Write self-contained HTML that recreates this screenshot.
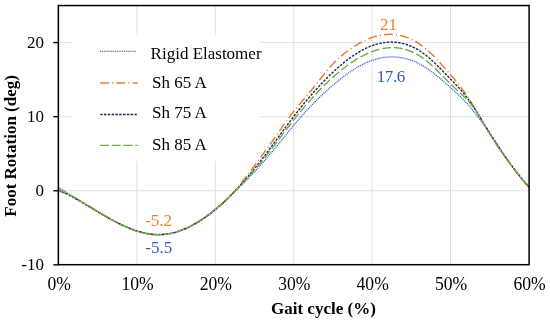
<!DOCTYPE html>
<html><head><meta charset="utf-8"><title>Foot rotation chart</title>
<style>
html,body{margin:0;padding:0;background:#fff;}
body{width:550px;height:322px;overflow:hidden;}
svg{display:block;}
text{font-family:"Liberation Serif","Times New Roman",serif;font-size:17px;fill:#000;}
.b{font-weight:bold;}
.t{font-size:17.6px;}
.d{font-size:17px;}
</style></head><body>
<svg width="550" height="322" viewBox="0 0 550 322">
<rect width="550" height="322" fill="#fff"/>
<g stroke="#e0e0e0" stroke-width="1" fill="none"><line x1="136.90" y1="5.5" x2="136.90" y2="264.7"/><line x1="215.30" y1="5.5" x2="215.30" y2="264.7"/><line x1="293.70" y1="5.5" x2="293.70" y2="264.7"/><line x1="372.10" y1="5.5" x2="372.10" y2="264.7"/><line x1="450.50" y1="5.5" x2="450.50" y2="264.7"/><line x1="58.5" y1="190.77" x2="529" y2="190.77"/><line x1="58.5" y1="116.67" x2="529" y2="116.67"/><line x1="58.5" y1="42.57" x2="529" y2="42.57"/></g>
<rect x="72.9" y="35" width="187.6" height="126" fill="#fff"/>
<g fill="none" stroke-linejoin="round">
<path d="M58.50,187.55 L60.46,188.71 L62.42,189.88 L64.38,191.07 L66.34,192.27 L68.30,193.47 L70.26,194.69 L72.22,195.91 L74.18,197.14 L76.14,198.37 L78.10,199.61 L80.06,200.84 L82.02,202.08 L83.98,203.31 L85.94,204.54 L87.90,205.77 L89.86,206.99 L91.82,208.20 L93.78,209.41 L95.74,210.60 L97.70,211.79 L99.66,212.96 L101.62,214.12 L103.58,215.26 L105.54,216.39 L107.50,217.50 L109.46,218.59 L111.42,219.66 L113.38,220.70 L115.34,221.73 L117.30,222.73 L119.26,223.70 L121.22,224.64 L123.18,225.56 L125.14,226.44 L127.10,227.29 L129.06,228.10 L131.02,228.87 L132.98,229.61 L134.94,230.30 L136.90,230.95 L138.86,231.56 L140.82,232.11 L142.78,232.62 L144.74,233.08 L146.70,233.48 L148.66,233.83 L150.62,234.12 L152.58,234.35 L154.54,234.52 L156.50,234.63 L158.46,234.68 L160.42,234.65 L162.38,234.56 L164.34,234.40 L166.30,234.18 L168.26,233.89 L170.22,233.53 L172.18,233.12 L174.14,232.63 L176.10,232.09 L178.06,231.48 L180.02,230.81 L181.98,230.09 L183.94,229.30 L185.90,228.45 L187.86,227.55 L189.82,226.58 L191.78,225.56 L193.74,224.49 L195.70,223.36 L197.66,222.17 L199.62,220.93 L201.58,219.64 L203.54,218.29 L205.50,216.89 L207.46,215.44 L209.42,213.94 L211.38,212.40 L213.34,210.82 L215.30,209.19 L217.26,207.53 L219.22,205.84 L221.18,204.12 L223.14,202.38 L225.10,200.61 L227.06,198.83 L229.02,197.03 L230.98,195.21 L232.94,193.37 L234.90,191.51 L236.86,189.63 L238.82,187.73 L240.78,185.80 L242.74,183.86 L244.70,181.89 L246.66,179.91 L248.62,177.89 L250.58,175.86 L252.54,173.80 L254.50,171.71 L256.46,169.60 L258.42,167.47 L260.38,165.30 L262.34,163.12 L264.30,160.90 L266.26,158.66 L268.22,156.38 L270.18,154.08 L272.14,151.75 L274.10,149.40 L276.06,147.02 L278.02,144.62 L279.98,142.21 L281.94,139.79 L283.90,137.37 L285.86,134.95 L287.82,132.53 L289.78,130.12 L291.74,127.73 L293.70,125.36 L295.66,123.02 L297.62,120.70 L299.58,118.42 L301.54,116.17 L303.50,113.97 L305.46,111.81 L307.42,109.68 L309.38,107.59 L311.34,105.54 L313.30,103.53 L315.26,101.55 L317.22,99.61 L319.18,97.70 L321.14,95.83 L323.10,93.99 L325.06,92.18 L327.02,90.40 L328.98,88.65 L330.94,86.94 L332.90,85.25 L334.86,83.59 L336.82,81.96 L338.78,80.36 L340.74,78.79 L342.70,77.27 L344.66,75.78 L346.62,74.33 L348.58,72.93 L350.54,71.58 L352.50,70.27 L354.46,69.02 L356.42,67.82 L358.38,66.67 L360.34,65.59 L362.30,64.57 L364.26,63.60 L366.22,62.70 L368.18,61.87 L370.14,61.09 L372.10,60.38 L374.06,59.74 L376.02,59.16 L377.98,58.64 L379.94,58.19 L381.90,57.81 L383.86,57.49 L385.82,57.24 L387.78,57.05 L389.74,56.94 L391.70,56.89 L393.66,56.92 L395.62,57.01 L397.58,57.17 L399.54,57.40 L401.50,57.71 L403.46,58.08 L405.42,58.53 L407.38,59.05 L409.34,59.65 L411.30,60.31 L413.26,61.05 L415.22,61.87 L417.18,62.76 L419.14,63.73 L421.10,64.77 L423.06,65.89 L425.02,67.08 L426.98,68.35 L428.94,69.69 L430.90,71.10 L432.86,72.56 L434.82,74.07 L436.78,75.63 L438.74,77.24 L440.70,78.88 L442.66,80.56 L444.62,82.26 L446.58,83.98 L448.54,85.73 L450.50,87.48 L452.46,89.24 L454.42,91.02 L456.38,92.83 L458.34,94.67 L460.30,96.56 L462.26,98.52 L464.22,100.54 L466.18,102.65 L468.14,104.83 L470.10,107.10 L472.06,109.45 L474.02,111.87 L475.98,114.36 L477.94,116.91 L479.90,119.53 L481.86,122.20 L483.82,124.93 L485.78,127.72 L487.74,130.54 L489.70,133.41 L491.66,136.31 L493.62,139.23 L495.58,142.16 L497.54,145.11 L499.50,148.05 L501.46,150.99 L503.42,153.91 L505.38,156.82 L507.34,159.69 L509.30,162.53 L511.26,165.33 L513.22,168.07 L515.18,170.76 L517.14,173.38 L519.10,175.92 L521.06,178.39 L523.02,180.77 L524.98,183.05 L526.94,185.23 L528.90,187.30" stroke="#3763cf" stroke-width="1.35" stroke-dasharray="1.1 0.9"/>
<path d="M58.50,190.85 L60.46,191.50 L62.42,192.21 L64.38,192.98 L66.34,193.80 L68.30,194.66 L70.26,195.57 L72.22,196.53 L74.18,197.52 L76.14,198.54 L78.10,199.60 L80.06,200.69 L82.02,201.80 L83.98,202.94 L85.94,204.09 L87.90,205.27 L89.86,206.46 L91.82,207.65 L93.78,208.86 L95.74,210.07 L97.70,211.28 L99.66,212.49 L101.62,213.70 L103.58,214.89 L105.54,216.08 L107.50,217.25 L109.46,218.41 L111.42,219.54 L113.38,220.65 L115.34,221.74 L117.30,222.80 L119.26,223.82 L121.22,224.81 L123.18,225.76 L125.14,226.67 L127.10,227.55 L129.06,228.38 L131.02,229.17 L132.98,229.92 L134.94,230.62 L136.90,231.27 L138.86,231.87 L140.82,232.42 L142.78,232.91 L144.74,233.35 L146.70,233.73 L148.66,234.06 L150.62,234.32 L152.58,234.53 L154.54,234.67 L156.50,234.74 L158.46,234.75 L160.42,234.68 L162.38,234.55 L164.34,234.35 L166.30,234.09 L168.26,233.76 L170.22,233.36 L172.18,232.91 L174.14,232.39 L176.10,231.81 L178.06,231.18 L180.02,230.49 L181.98,229.74 L183.94,228.94 L185.90,228.09 L187.86,227.19 L189.82,226.24 L191.78,225.24 L193.74,224.19 L195.70,223.10 L197.66,221.96 L199.62,220.78 L201.58,219.56 L203.54,218.30 L205.50,217.01 L207.46,215.67 L209.42,214.30 L211.38,212.88 L213.34,211.42 L215.30,209.90 L217.26,208.32 L219.22,206.67 L221.18,204.96 L223.14,203.17 L225.10,201.30 L227.06,199.35 L229.02,197.32 L230.98,195.21 L232.94,193.04 L234.90,190.79 L236.86,188.49 L238.82,186.12 L240.78,183.71 L242.74,181.24 L244.70,178.74 L246.66,176.19 L248.62,173.61 L250.58,171.00 L252.54,168.37 L254.50,165.71 L256.46,163.04 L258.42,160.36 L260.38,157.67 L262.34,154.98 L264.30,152.29 L266.26,149.60 L268.22,146.91 L270.18,144.22 L272.14,141.51 L274.10,138.78 L276.06,136.02 L278.02,133.23 L279.98,130.42 L281.94,127.59 L283.90,124.77 L285.86,121.99 L287.82,119.25 L289.78,116.58 L291.74,113.98 L293.70,111.45 L295.66,108.98 L297.62,106.55 L299.58,104.17 L301.54,101.81 L303.50,99.48 L305.46,97.16 L307.42,94.84 L309.38,92.52 L311.34,90.18 L313.30,87.82 L315.26,85.42 L317.22,82.99 L319.18,80.53 L321.14,78.05 L323.10,75.58 L325.06,73.15 L327.02,70.75 L328.98,68.43 L330.94,66.19 L332.90,64.05 L334.86,62.03 L336.82,60.10 L338.78,58.27 L340.74,56.52 L342.70,54.86 L344.66,53.27 L346.62,51.75 L348.58,50.30 L350.54,48.90 L352.50,47.56 L354.46,46.28 L356.42,45.06 L358.38,43.89 L360.34,42.79 L362.30,41.75 L364.26,40.77 L366.22,39.86 L368.18,39.01 L370.14,38.23 L372.10,37.52 L374.06,36.87 L376.02,36.30 L377.98,35.79 L379.94,35.36 L381.90,35.01 L383.86,34.72 L385.82,34.52 L387.78,34.39 L389.74,34.34 L391.70,34.37 L393.66,34.48 L395.62,34.67 L397.58,34.94 L399.54,35.30 L401.50,35.74 L403.46,36.27 L405.42,36.89 L407.38,37.59 L409.34,38.39 L411.30,39.28 L413.26,40.26 L415.22,41.33 L417.18,42.49 L419.14,43.76 L421.10,45.11 L423.06,46.57 L425.02,48.13 L426.98,49.78 L428.94,51.52 L430.90,53.34 L432.86,55.24 L434.82,57.20 L436.78,59.23 L438.74,61.32 L440.70,63.45 L442.66,65.63 L444.62,67.84 L446.58,70.09 L448.54,72.35 L450.50,74.63 L452.46,76.93 L454.42,79.25 L456.38,81.61 L458.34,84.03 L460.30,86.53 L462.26,89.11 L464.22,91.80 L466.18,94.61 L468.14,97.56 L470.10,100.64 L472.06,103.81 L474.02,107.07 L475.98,110.39 L477.94,113.74 L479.90,117.12 L481.86,120.49 L483.82,123.83 L485.78,127.13 L487.74,130.38 L489.70,133.57 L491.66,136.72 L493.62,139.81 L495.58,142.86 L497.54,145.85 L499.50,148.80 L501.46,151.69 L503.42,154.54 L505.38,157.34 L507.34,160.09 L509.30,162.79 L511.26,165.45 L513.22,168.06 L515.18,170.62 L517.14,173.14 L519.10,175.61 L521.06,178.04 L523.02,180.42 L524.98,182.76 L526.94,185.06 L528.90,187.31" stroke="#ed7d31" stroke-width="1.5" stroke-dasharray="8.9 3.1 1.1 3.1"/>
<path d="M58.50,189.82 L60.46,190.74 L62.42,191.70 L64.38,192.68 L66.34,193.69 L68.30,194.72 L70.26,195.78 L72.22,196.85 L74.18,197.94 L76.14,199.05 L78.10,200.17 L80.06,201.30 L82.02,202.44 L83.98,203.59 L85.94,204.75 L87.90,205.91 L89.86,207.07 L91.82,208.24 L93.78,209.40 L95.74,210.56 L97.70,211.72 L99.66,212.86 L101.62,214.00 L103.58,215.13 L105.54,216.25 L107.50,217.35 L109.46,218.43 L111.42,219.49 L113.38,220.54 L115.34,221.56 L117.30,222.56 L119.26,223.53 L121.22,224.48 L123.18,225.39 L125.14,226.28 L127.10,227.12 L129.06,227.94 L131.02,228.71 L132.98,229.45 L134.94,230.15 L136.90,230.80 L138.86,231.40 L140.82,231.96 L142.78,232.48 L144.74,232.94 L146.70,233.34 L148.66,233.70 L150.62,233.99 L152.58,234.23 L154.54,234.41 L156.50,234.52 L158.46,234.57 L160.42,234.56 L162.38,234.48 L164.34,234.33 L166.30,234.12 L168.26,233.84 L170.22,233.49 L172.18,233.09 L174.14,232.62 L176.10,232.09 L178.06,231.50 L180.02,230.85 L181.98,230.14 L183.94,229.37 L185.90,228.54 L187.86,227.66 L189.82,226.71 L191.78,225.72 L193.74,224.66 L195.70,223.56 L197.66,222.40 L199.62,221.18 L201.58,219.91 L203.54,218.60 L205.50,217.23 L207.46,215.81 L209.42,214.34 L211.38,212.82 L213.34,211.26 L215.30,209.65 L217.26,207.99 L219.22,206.28 L221.18,204.53 L223.14,202.74 L225.10,200.90 L227.06,199.02 L229.02,197.10 L230.98,195.14 L232.94,193.14 L234.90,191.09 L236.86,189.01 L238.82,186.89 L240.78,184.73 L242.74,182.53 L244.70,180.30 L246.66,178.04 L248.62,175.73 L250.58,173.40 L252.54,171.03 L254.50,168.63 L256.46,166.19 L258.42,163.73 L260.38,161.23 L262.34,158.71 L264.30,156.16 L266.26,153.57 L268.22,150.96 L270.18,148.33 L272.14,145.68 L274.10,143.01 L276.06,140.33 L278.02,137.65 L279.98,134.96 L281.94,132.28 L283.90,129.60 L285.86,126.94 L287.82,124.29 L289.78,121.67 L291.74,119.07 L293.70,116.50 L295.66,113.96 L297.62,111.46 L299.58,108.99 L301.54,106.55 L303.50,104.14 L305.46,101.77 L307.42,99.43 L309.38,97.13 L311.34,94.85 L313.30,92.62 L315.26,90.41 L317.22,88.24 L319.18,86.11 L321.14,84.01 L323.10,81.95 L325.06,79.92 L327.02,77.93 L328.98,75.98 L330.94,74.08 L332.90,72.21 L334.86,70.39 L336.82,68.61 L338.78,66.87 L340.74,65.19 L342.70,63.55 L344.66,61.96 L346.62,60.43 L348.58,58.94 L350.54,57.51 L352.50,56.14 L354.46,54.82 L356.42,53.56 L358.38,52.35 L360.34,51.21 L362.30,50.13 L364.26,49.11 L366.22,48.16 L368.18,47.27 L370.14,46.45 L372.10,45.69 L374.06,45.00 L376.02,44.38 L377.98,43.83 L379.94,43.36 L381.90,42.95 L383.86,42.62 L385.82,42.36 L387.78,42.18 L389.74,42.08 L391.70,42.05 L393.66,42.10 L395.62,42.24 L397.58,42.45 L399.54,42.75 L401.50,43.13 L403.46,43.59 L405.42,44.14 L407.38,44.78 L409.34,45.51 L411.30,46.32 L413.26,47.22 L415.22,48.22 L417.18,49.31 L419.14,50.49 L421.10,51.76 L423.06,53.13 L425.02,54.60 L426.98,56.16 L428.94,57.80 L430.90,59.52 L432.86,61.31 L434.82,63.16 L436.78,65.05 L438.74,66.99 L440.70,68.97 L442.66,70.97 L444.62,72.99 L446.58,75.01 L448.54,77.04 L450.50,79.07 L452.46,81.08 L454.42,83.10 L456.38,85.15 L458.34,87.24 L460.30,89.39 L462.26,91.63 L464.22,93.98 L466.18,96.45 L468.14,99.06 L470.10,101.80 L472.06,104.65 L474.02,107.61 L475.98,110.65 L477.94,113.76 L479.90,116.94 L481.86,120.15 L483.82,123.37 L485.78,126.58 L487.74,129.76 L489.70,132.90 L491.66,136.01 L493.62,139.09 L495.58,142.13 L497.54,145.14 L499.50,148.10 L501.46,151.03 L503.42,153.91 L505.38,156.74 L507.34,159.53 L509.30,162.28 L511.26,164.97 L513.22,167.62 L515.18,170.21 L517.14,172.75 L519.10,175.23 L521.06,177.66 L523.02,180.03 L524.98,182.33 L526.94,184.58 L528.90,186.76" stroke="#1f2a55" stroke-width="1.4" stroke-dasharray="2.5 1.3"/>
<path d="M58.50,189.26 L60.46,190.19 L62.42,191.15 L64.38,192.14 L66.34,193.16 L68.30,194.20 L70.26,195.27 L72.22,196.36 L74.18,197.46 L76.14,198.59 L78.10,199.73 L80.06,200.89 L82.02,202.05 L83.98,203.23 L85.94,204.41 L87.90,205.60 L89.86,206.79 L91.82,207.98 L93.78,209.17 L95.74,210.36 L97.70,211.54 L99.66,212.72 L101.62,213.89 L103.58,215.05 L105.54,216.19 L107.50,217.32 L109.46,218.43 L111.42,219.53 L113.38,220.60 L115.34,221.65 L117.30,222.68 L119.26,223.67 L121.22,224.64 L123.18,225.58 L125.14,226.48 L127.10,227.35 L129.06,228.18 L131.02,228.97 L132.98,229.72 L134.94,230.43 L136.90,231.09 L138.86,231.71 L140.82,232.27 L142.78,232.79 L144.74,233.25 L146.70,233.65 L148.66,234.00 L150.62,234.29 L152.58,234.51 L154.54,234.68 L156.50,234.77 L158.46,234.80 L160.42,234.76 L162.38,234.65 L164.34,234.47 L166.30,234.22 L168.26,233.91 L170.22,233.53 L172.18,233.08 L174.14,232.57 L176.10,232.00 L178.06,231.37 L180.02,230.68 L181.98,229.93 L183.94,229.12 L185.90,228.26 L187.86,227.34 L189.82,226.37 L191.78,225.35 L193.74,224.27 L195.70,223.15 L197.66,221.97 L199.62,220.75 L201.58,219.48 L203.54,218.16 L205.50,216.80 L207.46,215.40 L209.42,213.96 L211.38,212.47 L213.34,210.95 L215.30,209.38 L217.26,207.77 L219.22,206.12 L221.18,204.43 L223.14,202.71 L225.10,200.94 L227.06,199.14 L229.02,197.30 L230.98,195.42 L232.94,193.51 L234.90,191.55 L236.86,189.57 L238.82,187.55 L240.78,185.49 L242.74,183.40 L244.70,181.27 L246.66,179.11 L248.62,176.92 L250.58,174.70 L252.54,172.44 L254.50,170.15 L256.46,167.83 L258.42,165.49 L260.38,163.11 L262.34,160.70 L264.30,158.26 L266.26,155.79 L268.22,153.29 L270.18,150.77 L272.14,148.22 L274.10,145.65 L276.06,143.07 L278.02,140.48 L279.98,137.88 L281.94,135.28 L283.90,132.68 L285.86,130.10 L287.82,127.52 L289.78,124.96 L291.74,122.43 L293.70,119.92 L295.66,117.44 L297.62,115.00 L299.58,112.59 L301.54,110.22 L303.50,107.88 L305.46,105.58 L307.42,103.32 L309.38,101.09 L311.34,98.90 L313.30,96.74 L315.26,94.63 L317.22,92.54 L319.18,90.50 L321.14,88.49 L323.10,86.52 L325.06,84.59 L327.02,82.70 L328.98,80.84 L330.94,79.03 L332.90,77.25 L334.86,75.52 L336.82,73.82 L338.78,72.18 L340.74,70.57 L342.70,69.01 L344.66,67.50 L346.62,66.03 L348.58,64.61 L350.54,63.24 L352.50,61.91 L354.46,60.64 L356.42,59.42 L358.38,58.25 L360.34,57.13 L362.30,56.07 L364.26,55.06 L366.22,54.11 L368.18,53.22 L370.14,52.39 L372.10,51.62 L374.06,50.91 L376.02,50.27 L377.98,49.69 L379.94,49.18 L381.90,48.74 L383.86,48.37 L385.82,48.07 L387.78,47.85 L389.74,47.71 L391.70,47.63 L393.66,47.64 L395.62,47.73 L397.58,47.90 L399.54,48.16 L401.50,48.49 L403.46,48.92 L405.42,49.43 L407.38,50.03 L409.34,50.73 L411.30,51.51 L413.26,52.39 L415.22,53.37 L417.18,54.44 L419.14,55.61 L421.10,56.88 L423.06,58.25 L425.02,59.73 L426.98,61.30 L428.94,62.97 L430.90,64.70 L432.86,66.50 L434.82,68.36 L436.78,70.26 L438.74,72.19 L440.70,74.15 L442.66,76.11 L444.62,78.08 L446.58,80.03 L448.54,81.97 L450.50,83.87 L452.46,85.74 L454.42,87.57 L456.38,89.40 L458.34,91.24 L460.30,93.10 L462.26,95.00 L464.22,96.95 L466.18,98.98 L468.14,101.11 L470.10,103.34 L472.06,105.71 L474.02,108.23 L475.98,110.93 L477.94,113.83 L479.90,116.95 L481.86,120.29 L483.82,123.74 L485.78,127.15 L487.74,130.49 L489.70,133.75 L491.66,136.94 L493.62,140.05 L495.58,143.10 L497.54,146.08 L499.50,149.00 L501.46,151.86 L503.42,154.66 L505.38,157.41 L507.34,160.11 L509.30,162.77 L511.26,165.38 L513.22,167.94 L515.18,170.47 L517.14,172.96 L519.10,175.42 L521.06,177.86 L523.02,180.26 L524.98,182.64 L526.94,185.00 L528.90,187.35" stroke="#70ad47" stroke-width="1.4" stroke-dasharray="8.7 3"/>
</g>
<g stroke="#000" stroke-width="1.4" fill="none"><line x1="53.3" y1="264.87" x2="58.5" y2="264.87"/><line x1="53.3" y1="190.77" x2="58.5" y2="190.77"/><line x1="53.3" y1="116.67" x2="58.5" y2="116.67"/><line x1="53.3" y1="42.57" x2="58.5" y2="42.57"/></g>
<rect x="58.35" y="5.55" width="470.75" height="259.15" fill="none" stroke="#000" stroke-width="1.5"/>
<g fill="none">
<line x1="100" y1="51.4" x2="136" y2="51.4" stroke="#3d68cc" stroke-width="1.2" stroke-dasharray="1 0.85"/>
<line x1="100.2" y1="82.9" x2="137.7" y2="82.9" stroke="#ed7d31" stroke-width="1.5" stroke-dasharray="8.9 3.1 1.1 3.1"/>
<line x1="100.2" y1="114.5" x2="137.4" y2="114.5" stroke="#1f2a55" stroke-width="1.4" stroke-dasharray="2.5 1.3"/>
<line x1="100.2" y1="145.4" x2="137.6" y2="145.4" stroke="#70ad47" stroke-width="1.4" stroke-dasharray="8.7 3"/>
</g>
<text x="150.6" y="59.3">Rigid Elastomer</text>
<text x="152" y="88.2">Sh 65 A</text>
<text x="152" y="118">Sh 75 A</text>
<text x="152" y="149.8">Sh 85 A</text>
<text transform="translate(44.0,270.47) scale(1,1.04)" text-anchor="end">-10</text><text transform="translate(44.0,196.37) scale(1,1.04)" text-anchor="end">0</text><text transform="translate(44.0,122.27) scale(1,1.04)" text-anchor="end">10</text><text transform="translate(44.0,48.17) scale(1,1.04)" text-anchor="end">20</text>
<text class="t" transform="translate(59.10,290.4) scale(1,1.05)" text-anchor="middle">0%</text><text class="t" transform="translate(137.50,290.4) scale(1,1.05)" text-anchor="middle">10%</text><text class="t" transform="translate(215.90,290.4) scale(1,1.05)" text-anchor="middle">20%</text><text class="t" transform="translate(294.30,290.4) scale(1,1.05)" text-anchor="middle">30%</text><text class="t" transform="translate(372.70,290.4) scale(1,1.05)" text-anchor="middle">40%</text><text class="t" transform="translate(451.10,290.4) scale(1,1.05)" text-anchor="middle">50%</text><text class="t" transform="translate(529.50,290.4) scale(1,1.05)" text-anchor="middle">60%</text>
<text class="d" transform="translate(380.1,29.5) scale(1,1.04)" style="fill:#ed7d31">21</text>
<text class="d" transform="translate(376.8,82.3) scale(1,1.04)" style="fill:#2f5cbe;letter-spacing:-0.45px">17.6</text>
<text class="d" transform="translate(145.2,225.6) scale(1,1.03)" style="fill:#ed7d31">-5.2</text>
<text class="d" transform="translate(145.3,253.2) scale(1,1.03)" style="fill:#2f5cbe">-5.5</text>
<text class="b" x="271" y="314.3">Gait cycle (%)</text>
<text class="b" transform="translate(16.4,216.7) rotate(-90)" x="0" y="0">Foot Rotation (deg)</text>
</svg>
</body></html>
